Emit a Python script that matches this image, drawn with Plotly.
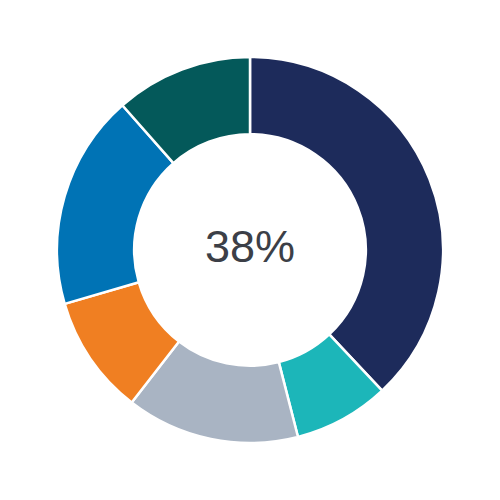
import plotly.graph_objects as go

# segments clockwise from 12 o'clock
segments = ["Navy", "Teal", "Gray", "Orange", "Blue", "Green"]
shares = [38, 8, 14.5, 10, 18, 11.5]
colors = ["#1d2b5b", "#1cb6b9", "#a9b4c3", "#f07f22", "#0073b5", "#04595a"]
center_label = "38%"

fig = go.Figure(go.Pie(
    labels=segments,
    values=shares,
    hole=0.6,
    sort=False,
    direction="clockwise",
    rotation=0,
    textinfo="none",
    hoverinfo="label+percent",
    marker=dict(colors=colors, line=dict(color="white", width=2.5)),
    showlegend=False,
))

fig.add_annotation(
    text=center_label, x=0.5, y=0.5, xref="paper", yref="paper", yshift=4,
    showarrow=False, font=dict(family="Liberation Sans, Arial", size=45, color="#3c3f47"),
)

# page body adds an 8px offset, so the margins are shifted to keep the ring centred
fig.update_layout(
    width=500, height=500,
    margin=dict(l=49, r=65, t=49, b=65),
    paper_bgcolor="white",
    plot_bgcolor="white",
)

fig.write_html("out.html")
